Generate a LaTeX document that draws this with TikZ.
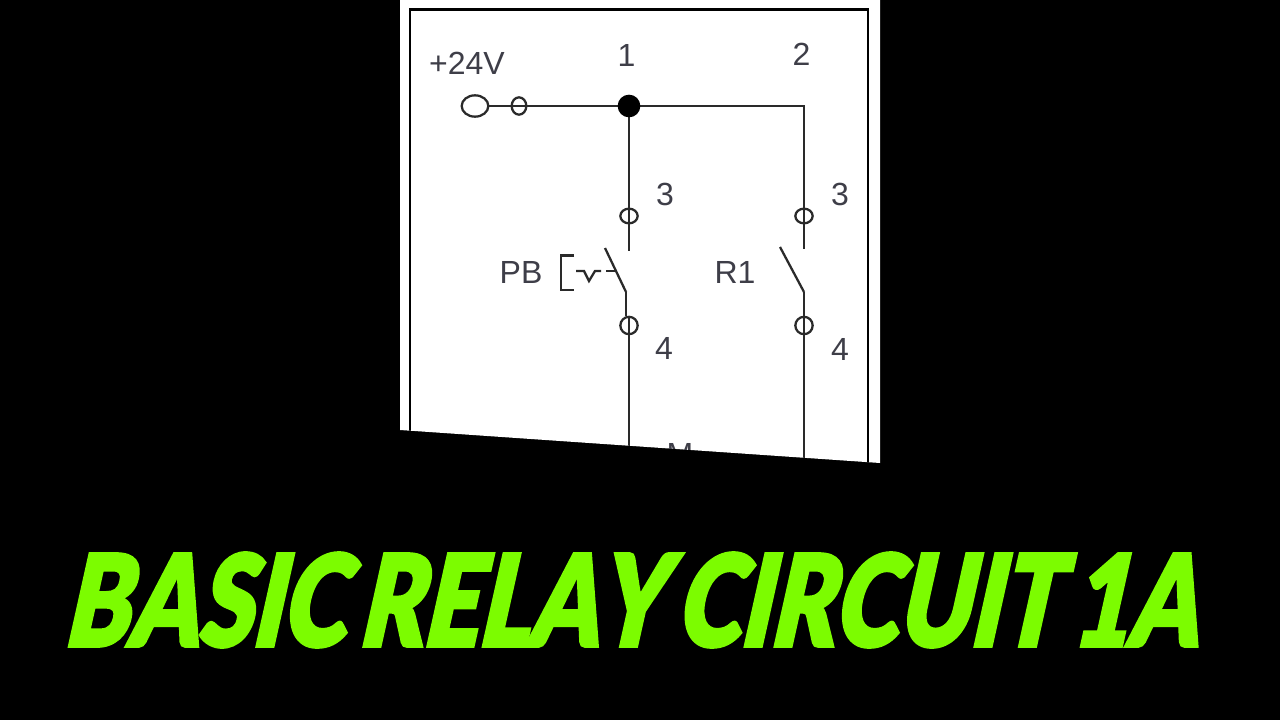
\documentclass[tikz,border=0pt]{standalone}
\usepackage{fontspec}
\setmainfont{Liberation Sans}
\newfontfamily\ttlfont[UprightFont=* Black,FakeBold=2.6,FakeSlant=0.29,WordSpace=0.6,LetterSpace=-0.4,Kerning=Off]{Lato}
\usetikzlibrary{shapes.geometric}
\definecolor{titlegreen}{HTML}{7CFC00}
\definecolor{wirec}{HTML}{2A2A2A}
\definecolor{labelc}{HTML}{3E3E48}
\tikzset{
  wire/.style={draw=wirec,line width=2.2pt},
  thin wire/.style={draw=wirec,line width=1.7pt},
  lbl/.style={text=labelc,font=\fontsize{24}{24}\selectfont,inner sep=0pt,anchor=center},
  term/.style={draw=wirec,line width=1.7pt,ellipse,inner sep=0pt},
  junction/.style={fill=black,circle,minimum size=17pt,inner sep=0pt},
}
\begin{document}
\begin{tikzpicture}[x=0.75pt,y=-0.75pt]
\useasboundingbox (0,0) rectangle (1280,720);
\fill[black] (0,0) rectangle (1280,720);
\fill[white] (400,0) -- (880,0) -- (880,463) -- (400,430) -- cycle;
\begin{scope}
\clip (400,0) -- (880,0) -- (880,463) -- (400,430) -- cycle;
\draw[black,line width=2.2pt] (410,500) -- (410,9.5) -- (868,9.5) -- (868,500);
\coordinate (j) at (629,106);
\coordinate (cn) at (804,106);
\node[term,fill=white,minimum width=20pt,minimum height=16pt] (src) at (475,106) {};
\node[term,minimum width=11pt,minimum height=13pt] (t0) at (519,106) {};
\node[term,minimum width=13pt,minimum height=11pt] (t1) at (629,216) {};
\node[term,minimum width=13pt,minimum height=13pt] (t2) at (629,325.5) {};
\node[term,minimum width=13pt,minimum height=11pt] (t3) at (804,216) {};
\node[term,minimum width=13pt,minimum height=13pt] (t4) at (804,325.5) {};
\coordinate (s1a) at (629,251);
\coordinate (s1b) at (626,292);
\coordinate (s1c) at (605,248);
\coordinate (s2a) at (804,249);
\coordinate (s2b) at (804,292);
\coordinate (s2c) at (780,247);
\coordinate (b1) at (629,470);
\coordinate (b2) at (804,470);
\draw[wire] (src) -- (t0.center) -- (j) -- (cn) -- (s2a);
\draw[wire] (j) -- (s1a);
\draw[wire] (s1b) -- (s1b |- t2.north);
\draw[wire] (t2.north) -- (b1);
\draw[wire] (s2b) -- (b2);
\node[junction] (jdot) at (j) {};
\draw[thin wire] (s1c) -- (s1b);
\draw[thin wire] (s2c) -- (s2b);
\draw[thin wire] (574,255.5) -- (561,255.5) -- (561,290) -- (574,290);
\draw[thin wire] (576,271) -- (584,271) -- (589,281) -- (595,271) -- (601,271);
\draw[thin wire] (606,271) -- (616,271);
\node[lbl] (v) at (467,63) {+24V};
\node[lbl] (n1) at (626.5,55) {1};
\node[lbl] (n2) at (801.5,54) {2};
\node[lbl] (n3a) at (665,194) {3};
\node[lbl] (n3b) at (840,194) {3};
\node[lbl] (n4a) at (664,348) {4};
\node[lbl] (n4b) at (840,349) {4};
\node[lbl] (pb) at (521,272) {PB};
\node[lbl] (r1) at (735,272) {R1};
\node[lbl,anchor=north] (m) at (680,443) {M};
\end{scope}
\node[inner sep=0pt,text=titlegreen] (title) at (629,600) {\resizebox{850pt}{70pt}{\ttlfont BASIC RELAY CIRCUIT 1A}};
\end{tikzpicture}
\end{document}
